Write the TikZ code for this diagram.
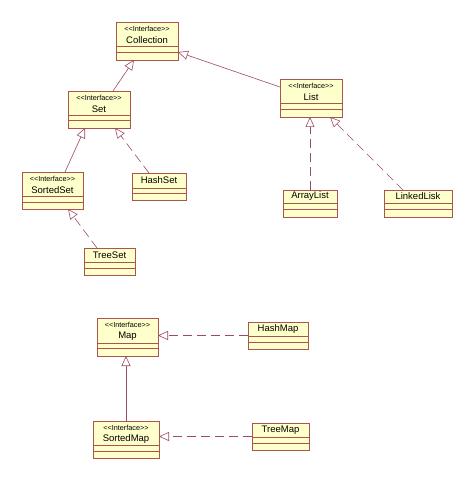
\documentclass[tikz,border=0pt]{standalone}
\usepackage{fontspec}
\setmainfont{Liberation Sans}
\usetikzlibrary{fit,arrows.meta}
\definecolor{boxfill}{RGB}{255,255,204}
\definecolor{boxedge}{RGB}{170,85,80}
\definecolor{conn}{RGB}{155,75,105}
\tikzset{
  umlbox/.style={draw=boxedge, fill=boxfill, line width=0.7pt, inner sep=0pt, outer sep=0pt},
  boxline/.style={draw=boxedge, line width=0.7pt},
  stereotext/.style={font=\fontsize{7.3}{8}\selectfont, inner sep=0pt},
  titletext/.style={font=\fontsize{9.5}{10}\selectfont, inner sep=0pt},
  realize/.style={draw=conn, line width=0.6pt, dash pattern=on 9pt off 5pt, -{Triangle[open,length=10pt,width=9pt]}},
  inherit/.style={draw=conn, line width=0.6pt, -{Triangle[open,length=10pt,width=9pt]}},
}
\newcommand\umlclass[9]{%
  \node[umlbox, fit={(#2,#3) (#4,#5)}] (#1) {};
  \draw[boxline] (#2,#6) -- (#4,#6) (#2,#7) -- (#4,#7);
  \ifx\relax#8\relax
    \node[titletext] (#1-t) at ({(#2+#4)/2},{(#3+#6)/2}) {#9};
  \else
    \node[stereotext] (#1-s) at ({(#2+#4)/2},{#3+7}) {#8};
    \node[titletext] (#1-t) at ({(#2+#4)/2},{#3+18}) {#9};
  \fi}
\newcommand\iface{<\kern0pt<Interface>\kern0pt>}
\begin{document}
\begin{tikzpicture}[x=1pt,y=-1pt]
\useasboundingbox[fill=white] (0,0) rectangle (474,481);
\umlclass{collection}{116}{22}{178}{60}{46}{52}{\iface}{Collection}
\umlclass{set}{68}{91}{130}{128}{115}{120}{\iface}{Set}
\umlclass{list}{280}{79}{342}{117}{103}{109}{\iface}{List}
\umlclass{sortedset}{22}{172}{83}{209}{196}{202}{\iface}{SortedSet}
\umlclass{hashset}{132}{173}{186}{200}{188}{193}{}{HashSet}
\umlclass{treeset}{84}{248}{135}{275}{262}{268}{}{TreeSet}
\umlclass{arraylist}{283}{190}{337}{217}{203}{209}{}{ArrayList}
\umlclass{linkedlisk}{384}{190}{452}{217}{203}{209}{}{LinkedLisk}
\umlclass{map}{97}{318}{158}{356}{343}{348}{\iface}{Map}
\umlclass{hashmap}{248}{322}{308}{349}{336}{342}{}{HashMap}
\umlclass{sortedmap}{93}{421}{159}{458}{445}{451}{\iface}{SortedMap}
\umlclass{treemap}{252}{423}{309}{450}{437}{443}{}{TreeMap}
% connectors
\draw[inherit] ([xshift=14pt]set.north) -- ([xshift=-13pt]collection.south);
\draw[inherit] ([yshift=11pt]list.west) -- ([yshift=-11pt]collection.east);
\draw[inherit] ([xshift=12.5pt]sortedset.north) -- ([xshift=-14pt]set.south);
\draw[realize] ([xshift=-10pt]hashset.north) -- ([xshift=16pt]set.south);
\draw[realize] ([xshift=-12.5pt]treeset.north) -- ([xshift=15.5pt]sortedset.south);
\draw[realize] (arraylist.north) -- (arraylist.north |- list.south);
\draw[realize] ([xshift=-15pt]linkedlisk.north) -- ([xshift=19pt]list.south);
\draw[inherit] (sortedmap.north) -- (sortedmap.north |- map.south);
\draw[realize] (hashmap.west) -- (hashmap.west -| map.east);
\draw[realize] (treemap.west) -- (treemap.west -| sortedmap.east);
\end{tikzpicture}
\end{document}
